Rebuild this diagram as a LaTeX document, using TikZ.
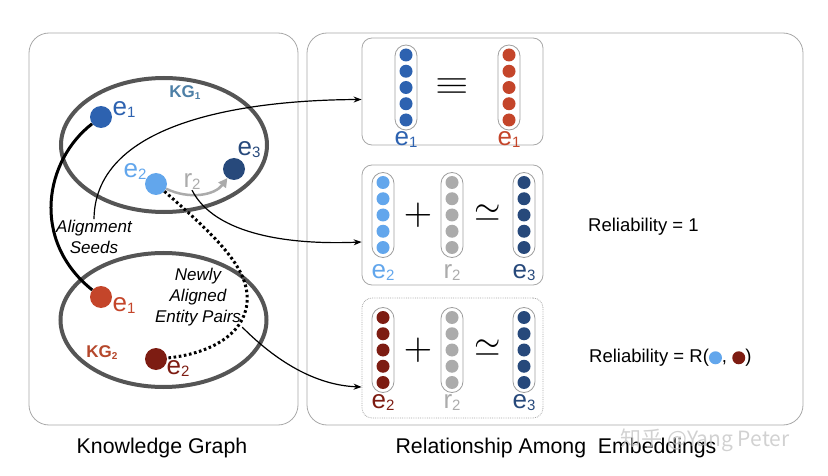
\documentclass[tikz,border=0pt]{standalone}
\usepackage[no-math]{fontspec}
\setmainfont{Liberation Sans}
\newfontfamily\cjk{Noto Sans CJK SC}
\usetikzlibrary{arrows.meta,calc}
\definecolor{eblue}{HTML}{2D62B0}
\definecolor{ered}{HTML}{C4452A}
\definecolor{elight}{HTML}{62A6EC}
\definecolor{egray}{HTML}{ABABAB}
\definecolor{enavy}{HTML}{27497B}
\definecolor{edark}{HTML}{7D1C12}
\definecolor{kgline}{HTML}{555555}
\definecolor{panel}{HTML}{A8A8A8}
\definecolor{kgblue}{HTML}{4D7FA6}
\definecolor{kgred}{HTML}{B5472B}
\newcommand\elab[2]{{\fontsize{26}{26}\selectfont #1}{\fontsize{15}{15}\selectfont\raisebox{-2pt}{#2}}}
\newcommand\rdot[1]{\tikz[baseline=-5pt]\fill[#1] (0,0) circle (6.5pt);}
\newcommand\vecbox[4]{%
  \node[capsule] (#1) at (#2,#3) {};
  \foreach \k in {-2,...,2} \fill[#4] (#2,{#3+16.25*\k}) circle (6.5pt);
}
\tikzset{
  panelbox/.style={draw=panel, line width=0.8pt, rounded corners=20pt},
  ebox/.style={draw=panel, line width=0.8pt, rounded corners=10pt, minimum width=181pt, inner sep=0pt},
  capsule/.style={draw=gray!75, line width=0.8pt, rounded corners=11pt, minimum width=22pt, minimum height=85pt, inner sep=0pt, fill=white},
  kg/.style={draw=kgline, line width=4pt},
  ent/.style={circle, minimum size=22pt, inner sep=0pt},
  lab/.style={inner sep=0pt},
  note/.style={font=\itshape\fontsize{17}{21}\selectfont, align=center, inner sep=1pt},
  conn/.style={black, line width=1.2pt, -{Stealth[length=8pt,width=6pt]}},
  sym/.style={inner sep=0pt},
  rel/.style={font=\fontsize{18.5}{20}\selectfont, anchor=west, inner sep=0pt},
  caption/.style={font=\fontsize{21.3}{24}\selectfont, inner sep=0pt}
}
\begin{document}
\begin{tikzpicture}[x=1pt,y=-1pt]
\useasboundingbox (0,0) rectangle (828,476);
% panels
\draw[panelbox] (29,33) rectangle (298,425);
\draw[panelbox] (307,33) rectangle (803,425);
% KG ellipses
\draw[kg] (164,145) ellipse [x radius=103pt, y radius=67pt];
\draw[kg] (163.5,320) ellipse [x radius=103pt, y radius=67pt];
\node[lab, font=\bfseries\fontsize{17}{17}\selectfont, text=kgblue] (kg1) at (185,93) {KG{\fontsize{10}{10}\selectfont\raisebox{-2pt}{1}}};
\node[lab, font=\bfseries\fontsize{17}{17}\selectfont, text=kgred] (kg2) at (102,353) {KG{\fontsize{10}{10}\selectfont\raisebox{-2pt}{2}}};
% entities
\node[ent, fill=eblue] (g1e1) at (101,117) {};
\node[ent, fill=elight] (g1e2) at (156,184) {};
\node[ent, fill=enavy] (g1e3) at (234,169) {};
\node[ent, fill=ered] (g2e1) at (101,297) {};
\node[ent, fill=edark] (g2e2) at (156,359) {};
\node[lab, text=eblue] (l1e1) at (124,110) {\elab{e}{1}};
\node[lab, text=elight] (l1e2) at (135,172) {\elab{e}{2}};
\node[lab, text=egray] (r2lab) at (192,182) {\elab{r}{2}};
\node[lab, text=enavy] (l1e3) at (249,150) {\elab{e}{3}};
\node[lab, text=ered] (l2e1) at (124,306) {\elab{e}{1}};
\node[lab, text=edark] (l2e2) at (178,369) {\elab{e}{2}};
% relation r2
\draw[egray, line width=2.5pt, -{Triangle[length=9pt,width=9pt]}] (g1e2) .. controls (190,200) and (215,195) .. (g1e3);
% alignment seed
\draw[black, line width=3pt] (g1e1) .. controls (45,160) and (30,240) .. (g2e1);
% newly aligned (dotted)
\coordinate (dotmid) at (247,303);
\draw[black, line width=3pt, dash pattern=on 2.6pt off 2.6pt] (g1e2) .. controls (220,240) and (250,270) .. (dotmid) .. controls (243,340) and (200,355) .. (g2e2);
% notes
\node[note] (seeds) at (94,237) {Alignment\\Seeds};
\node[note] (pairs) at (198,297) {Newly\\Aligned\\Entity Pairs};
% right boxes
\node[ebox, minimum height=107pt] (box1) at (452.5,91.5) {};
\node[ebox, minimum height=120pt] (box2) at (452.5,225) {};
\node[ebox, minimum height=120pt, densely dotted] (box3) at (452.5,358) {};
\vecbox{v1a}{406}{87.5}{eblue}
\vecbox{v1b}{509}{87.5}{ered}
\node[sym] (eq1) at (452,87) {\scalebox{4.3}[3.4]{$\equiv$}};
\node[lab, text=eblue] at (406,140) {\elab{e}{1}};
\node[lab, text=ered] at (509,140) {\elab{e}{1}};
\vecbox{v2a}{383}{215}{elight}
\vecbox{v2b}{452}{215}{egray}
\vecbox{v2c}{524}{215}{enavy}
\node[sym] (plus2) at (418,215) {\scalebox{3.7}{$+$}};
\node[sym] (sim2) at (488,213) {\scalebox{3.4}[3.6]{$\simeq$}};
\node[lab, text=elight] at (383,273) {\elab{e}{2}};
\node[lab, text=egray] at (452,273) {\elab{r}{2}};
\node[lab, text=enavy] at (524,273) {\elab{e}{3}};
\vecbox{v3a}{383}{350}{edark}
\vecbox{v3b}{452}{350}{egray}
\vecbox{v3c}{524}{350}{enavy}
\node[sym] (plus3) at (418,350) {\scalebox{3.7}{$+$}};
\node[sym] (sim3) at (488,348) {\scalebox{3.4}[3.6]{$\simeq$}};
\node[lab, text=edark] at (383,403) {\elab{e}{2}};
\node[lab, text=egray] at (452,403) {\elab{r}{2}};
\node[lab, text=enavy] at (524,403) {\elab{e}{3}};
\node[rel] (rel1) at (588,227) {Reliability = 1};
\node[rel] (rel2) at (589,358) {Reliability = R(\rdot{elight}, \rdot{edark})};
% connectors
\draw[conn] (seeds.north) .. controls (95,120) and (250,100) .. ($(box1.west)+(0,8)$);
\draw[conn] (r2lab.south) .. controls (215,235) and (290,245) .. ($(box2.west)+(0,17)$);
\draw[conn] (pairs.south east) .. controls (270,355) and (310,385) .. ($(box3.west)+(0,29)$);
% captions
\node[caption] (cap1) at (162,448) {Knowledge Graph};
\node[caption] (cap2) at (556,448) {Relationship Among\ \ Embeddings};
\node[inner sep=0pt, text=gray!45, opacity=0.8, font=\cjk\fontsize{21}{21}\selectfont] (wm) at (705,440) {知乎 @Yang Peter};
\end{tikzpicture}
\end{document}
